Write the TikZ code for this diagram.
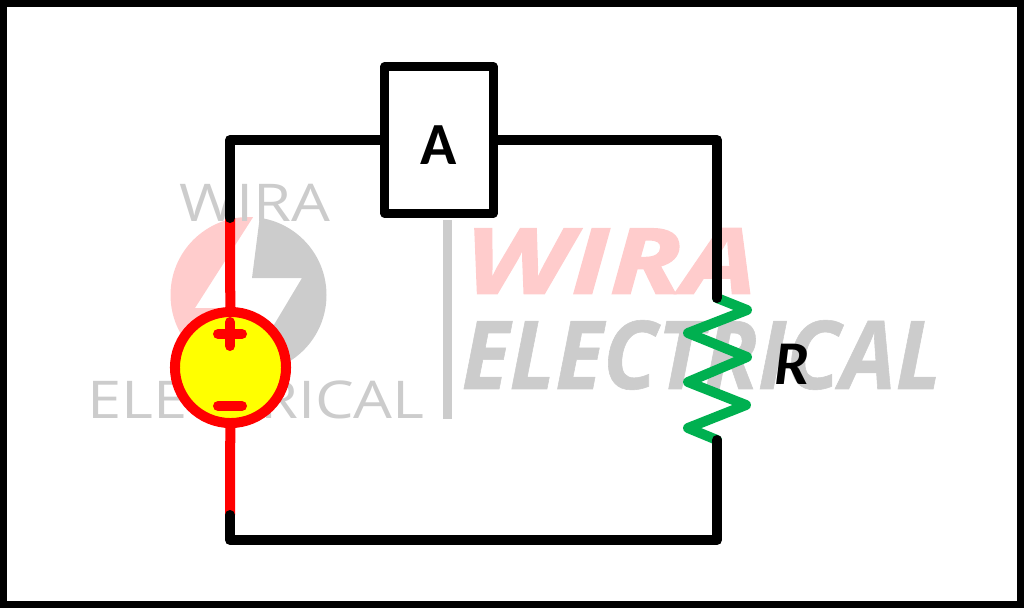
\documentclass[tikz,border=0pt]{standalone}
\usepackage{fontspec}
\setmainfont{Carlito}
\newfontfamily\smallfont[FakeStretch=1.18]{Open Sans}
\newfontfamily\wirafont[FakeStretch=1.31,FakeBold=1.5]{Open Sans}
\newfontfamily\elecfont[FakeStretch=0.93,FakeBold=0.6]{Open Sans}
\usepackage{tikz}
\definecolor{markgray}{HTML}{CCCCCC}
\definecolor{markpink}{HTML}{FFCCCC}
\definecolor{resgreen}{HTML}{00B050}
\definecolor{srcyellow}{HTML}{FFFF00}
\definecolor{srcred}{HTML}{FF0000}
\tikzset{
    wire/.style={line width=1mm, line join=round, line cap=round},
    smallmark/.style={inner sep=0, text=markgray, font=\smallfont\fontsize{14.8}{16}\selectfont},
    bigmark/.style={inner sep=0}
}

\begin{document}
\begin{tikzpicture}[x=0.01cm, y=-0.01cm]
    \useasboundingbox (0, 0) rectangle (1024, 608);
    % watermark
    \begin{scope}
        \clip (248.5, 295) circle (78);
        \fill[markpink] (150, 200) -- (264, 200) -- (195, 308) -- (233, 308) -- (190, 400) -- (150, 400) -- cycle;
        \fill[markgray] (262, 200) -- (340, 200) -- (340, 400) -- (229, 400) -- (302, 278) -- (252, 278) -- cycle;
    \end{scope}
    \node[smallmark] (smallwira) at (255, 203) {WIRA};
    \node[smallmark] (smallelec) at (256, 400) {ELECTRICAL};
    \fill[markgray] (443, 220) rectangle (452, 419);
    \node[bigmark, text=markpink, font=\wirafont\bfseries\itshape\fontsize{25.9}{30}\selectfont] (bigwira) at (610.5, 261) {WIRA};
    \node[bigmark, text=markgray, font=\elecfont\bfseries\itshape\fontsize{27}{30}\selectfont] (bigelec) at (701.5, 355) {ELECTRICAL};

    % circuit
    \node[draw, wire, fill=srcyellow, draw=srcred, circle, minimum size=1.11cm, inner sep=0] (source) at (230.5, 367.5) {};
    \node[draw, wire, line width=0.9mm, fill=white, minimum width=1.08cm, minimum height=1.47cm, text height=0.49cm, text depth=0cm, font=\bfseries\fontsize{17}{20}\selectfont] (ammeter) at (439, 140) {A};
    \coordinate (topleft) at (230, 140);
    \coordinate (topright) at (717, 140);
    \coordinate (botleft) at (230, 540);
    \coordinate (botright) at (717, 540);
    \coordinate (redtop) at (230, 218);
    \coordinate (redbot) at (230, 515);
    \coordinate (restop) at (717, 298);
    \coordinate (resbot) at (717, 440);
    \draw[wire, srcred, line cap=butt] (redtop) -- (source);
    \draw[wire, srcred, line cap=butt] (source) -- (redbot);
    \draw[wire] (redtop) -- (topleft) -- (ammeter);
    \draw[wire] (ammeter) -- (topright) -- (restop);
    \draw[wire] (resbot) -- (botright) -- (botleft) -- (redbot);
    \draw[wire, resgreen] (restop) -- (747, 310) -- (688, 333) -- (747, 357) -- (688, 382) -- (746, 405) -- (688, 428) -- (resbot);
    \draw[wire, black] (restop) -- +(0, -3);
    \draw[wire, black] (resbot) -- +(0, 3);
    \draw[wire, srcred] (218, 334) -- (242, 334);
    \draw[wire, srcred] (230, 322) -- (230, 346);
    \draw[wire, srcred] (218, 406) -- (242, 406);
    \node[inner sep=0, font=\bfseries\itshape\fontsize{17.7}{20}\selectfont] (rlabel) at (792, 364.5) {R};

    % frame
    \draw[line width=0.7mm] (3.5, 3.5) rectangle (1020.5, 604.5);
\end{tikzpicture}
\end{document}
